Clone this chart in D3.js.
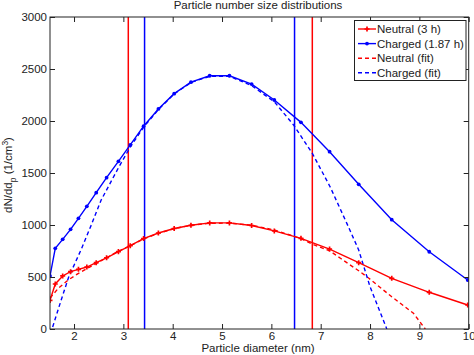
<!DOCTYPE html>
<html><head><meta charset="utf-8">
<script src="https://cdn.jsdelivr.net/npm/d3@7"></script>
<style>body{margin:0;background:#fff}text{font-family:"Liberation Sans",Arial,sans-serif;}</style>
</head><body>
<svg id="c" width="474" height="355"></svg>
<script>
const diam = [1.513,1.62,1.77,1.93,2.09,2.26,2.45,2.66,2.90,3.14,3.41,3.71,4.03,4.37,4.75,5.15,5.60,6.06,6.60,7.18,7.77,8.44,9.20,9.98];
const neutral = [275,433,510,551,574,596,638,685,744,801,870,923,966,997,1020,1020,995,943,872,769,638,487,353,231];
const charged = [510,776,862,958,1064,1180,1311,1455,1612,1770,1950,2116,2263,2373,2435,2435,2355,2202,1987,1705,1391,1051,743,471];
const neutralFitX = [1.513,1.68,1.88,2.09,2.45,2.90,3.14,3.41,3.71,4.03,4.37,4.75,5.15,5.60,6.06,6.60,6.84,7.18,7.40,7.77,7.97,8.44,8.88,9.12];
const neutralFitY = [298,391,471,535,630,748,800,866,920,965,998,1017,1018,998,952,870,814,752,680,560,490,310,151,0];
const chargedFitX = [1.567,1.74,1.89,2.15,2.35,2.55,2.90,3.14,3.41,3.71,4.03,4.37,4.75,5.15,5.60,6.06,6.45,6.83,7.19,7.53,7.77,8.00,8.34];
const chargedFitY = [20,279,497,770,1000,1240,1550,1750,1940,2110,2260,2370,2430,2430,2340,2185,1962,1689,1368,1016,760,407,0];
const vlinesRed = [3.10,6.83];
const vlinesBlue = [3.43,6.47];
const xTicks = [2,3,4,5,6,7,8,9,10];
const yTicks = [0,500,1000,1500,2000,2500,3000];
const legendLabels = ["Neutral (3 h)","Charged (1.87 h)","Neutral (fit)","Charged (fit)"];

const RED = "#ff0000", BLUE = "#0000ff", FS = 11.5;
const L = 50, R = 468.7, T = 17, B = 329;
const svg = d3.select("#c");
const x = d3.scaleLinear().domain([1.513,10]).range([L,R]);
const y = d3.scaleLinear().domain([0,3000]).range([B,T]);

svg.append("defs").append("clipPath").attr("id","clip")
  .append("rect").attr("x",L).attr("y",T).attr("width",R-L).attr("height",B-T);

const g = svg.append("g").attr("clip-path","url(#clip)");
const line = d3.line().x(d=>x(d[0])).y(d=>y(d[1]));

vlinesRed.forEach(v=>g.append("line").attr("x1",x(v)).attr("x2",x(v)).attr("y1",T).attr("y2",B).attr("stroke",RED).attr("stroke-width",1.5));
vlinesBlue.forEach(v=>g.append("line").attr("x1",x(v)).attr("x2",x(v)).attr("y1",T).attr("y2",B).attr("stroke",BLUE).attr("stroke-width",1.5));

g.append("path").datum(neutralFitX.map((v,i)=>[v,neutralFitY[i]])).attr("d",line)
  .attr("fill","none").attr("stroke",RED).attr("stroke-width",1.4).attr("stroke-dasharray","4,3");
g.append("path").datum(chargedFitX.map((v,i)=>[v,chargedFitY[i]])).attr("d",line)
  .attr("fill","none").attr("stroke",BLUE).attr("stroke-width",1.4).attr("stroke-dasharray","4,3");

const nd = diam.map((v,i)=>[v,neutral[i]]);
const cd = diam.map((v,i)=>[v,charged[i]]);
g.append("path").datum(nd).attr("d",line).attr("fill","none").attr("stroke",RED).attr("stroke-width",1.4);
g.append("path").datum(cd).attr("d",line).attr("fill","none").attr("stroke",BLUE).attr("stroke-width",1.4);
const plus = d3.symbol().type(d3.symbolCross).size(14);
g.selectAll(".nm").data(nd).enter().append("path").attr("d",plus)
  .attr("transform",d=>`translate(${x(d[0])},${y(d[1])})`).attr("fill",RED);
g.selectAll(".cm").data(cd).enter().append("circle")
  .attr("cx",d=>x(d[0])).attr("cy",d=>y(d[1])).attr("r",1.9).attr("fill",BLUE);

const ax = svg.append("g");
ax.append("rect").attr("x",L).attr("y",T).attr("width",R-L).attr("height",B-T)
  .attr("fill","none").attr("stroke","#222").attr("stroke-width",1);
const xb = d3.axisBottom(x).tickValues(xTicks).tickSizeInner(-5).tickSizeOuter(0).tickPadding(3).tickFormat(d3.format("d"));
const xt = d3.axisTop(x).tickValues(xTicks).tickSizeInner(-5).tickSizeOuter(0).tickFormat("");
const yl = d3.axisLeft(y).tickValues(yTicks).tickSizeInner(-5).tickSizeOuter(0).tickPadding(3).tickFormat(d3.format("d"));
const yr = d3.axisRight(y).tickValues(yTicks).tickSizeInner(-5).tickSizeOuter(0).tickFormat("");
[[xb,`translate(0,${B})`],[xt,`translate(0,${T})`],[yl,`translate(${L},0)`],[yr,`translate(${R},0)`]].forEach(([a,t])=>{
  const gg = ax.append("g").attr("transform",t).call(a);
  gg.select(".domain").remove();
  gg.selectAll("line").attr("stroke","#222");
  gg.selectAll("text").attr("font-size",FS).attr("fill","#222").style("font-family","'Liberation Sans',Arial,sans-serif");
});

svg.append("text").attr("x",258).attr("y",9).attr("text-anchor","middle").attr("font-size",FS).attr("fill","#222")
  .text("Particle number size distributions");
svg.append("text").attr("x",258).attr("y",352).attr("text-anchor","middle").attr("font-size",FS).attr("fill","#222")
  .text("Particle diameter (nm)");
const yt = svg.append("text").attr("transform","translate(12,175) rotate(-90)").attr("text-anchor","middle")
  .attr("font-size",FS).attr("fill","#222");
yt.append("tspan").text("dN/dd");
yt.append("tspan").attr("dy",4).attr("font-size",8.5).text("p");
yt.append("tspan").attr("dy",-4).text("  (1/cm");
yt.append("tspan").attr("dy",-4).attr("font-size",8.5).text("3");
yt.append("tspan").attr("dy",4).text(")");

const lg = svg.append("g");
lg.append("rect").attr("x",354.5).attr("y",20.5).attr("width",111.5).attr("height",60)
  .attr("fill","#fff").attr("stroke","#222").attr("stroke-width",1);
const styles = [[RED,null,"n"],[BLUE,null,"c"],[RED,"4,3",null],[BLUE,"4,3",null]];
legendLabels.forEach((lab,i)=>{
  const yy = 29 + i*14.6;
  const [col,dash,mk] = styles[i];
  const l = lg.append("line").attr("x1",358).attr("x2",376).attr("y1",yy).attr("y2",yy)
    .attr("stroke",col).attr("stroke-width",1.4);
  if (dash) l.attr("stroke-dasharray",dash);
  if (mk==="n") lg.append("path").attr("d",plus).attr("transform",`translate(367,${yy})`).attr("fill",RED);
  if (mk==="c") lg.append("circle").attr("cx",367).attr("cy",yy).attr("r",1.9).attr("fill",BLUE);
  lg.append("text").attr("x",377).attr("y",yy+4).attr("font-size",FS).attr("fill","#222").text(lab);
});
</script>
</body></html>
